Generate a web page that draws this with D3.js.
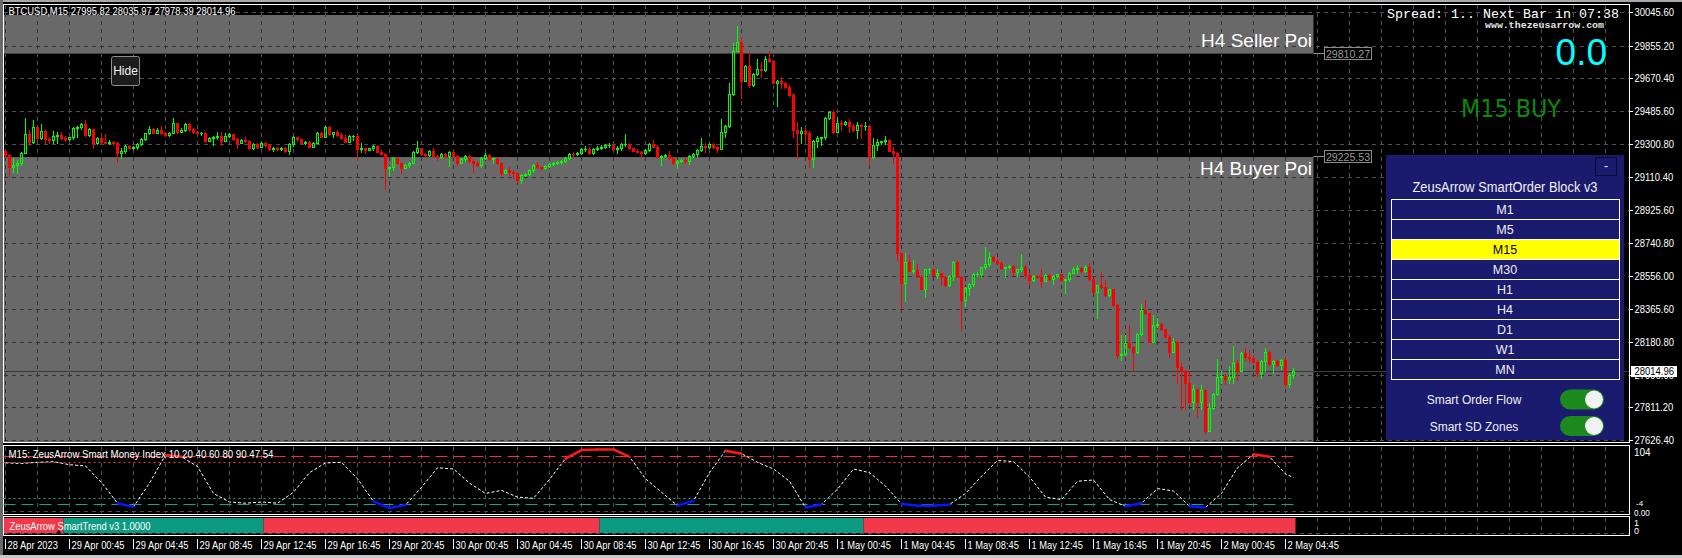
<!DOCTYPE html>
<html>
<head>
<meta charset="utf-8">
<script src="https://cdn.jsdelivr.net/npm/d3@7"></script>
<style>
  html, body { margin: 0; padding: 0; background: #000; }
  svg { display: block; font-family: "Liberation Sans", Arial, sans-serif; }
</style>
</head>
<body>
<div id="chart"></div>
<script>
// BTCUSD M15 chart with the ZeusArrow overlays (MT4 style)

// ---- data ----
const symbolHeader = 'BTCUSD,M15  27995.82 28035.97 27978.39 28014.96';
const firstOpen = 29262;

const closes = [
  29237, 29171, 29181, 29194, 29250, 29356, 29312, 29394, 29331, 29373,
  29326, 29322, 29345, 29352, 29335, 29326, 29337, 29392, 29397, 29412,
  29348, 29382, 29303, 29335, 29312, 29307, 29312, 29303, 29247, 29262,
  29288, 29275, 29281, 29299, 29326, 29360, 29382, 29363, 29378, 29360,
  29348, 29363, 29416, 29369, 29378, 29412, 29382, 29369, 29360, 29363,
  29318, 29331, 29341, 29345, 29318, 29345, 29354, 29326, 29307, 29322,
  29318, 29275, 29299, 29284, 29307, 29294, 29269, 29279, 29269, 29275,
  29262, 29297, 29337, 29326, 29307, 29312, 29284, 29307, 29360, 29341,
  29394, 29356, 29365, 29350, 29335, 29312, 29345, 29345, 29269, 29275,
  29265, 29275, 29288, 29256, 29243, 29162, 29168, 29218, 29190, 29162,
  29181, 29194, 29256, 29275, 29243, 29237, 29262, 29232, 29224, 29241,
  29232, 29256, 29232, 29194, 29213, 29232, 29203, 29194, 29181, 29218,
  29237, 29213, 29218, 29190, 29137, 29152, 29143, 29134, 29096, 29124,
  29130, 29152, 29181, 29167, 29162, 29175, 29186, 29194, 29199, 29205,
  29218, 29243, 29241, 29250, 29269, 29271, 29247, 29269, 29279, 29284,
  29292, 29295, 29269, 29278, 29299, 29301, 29275, 29261, 29256, 29246,
  29265, 29299, 29284, 29224, 29231, 29237, 29218, 29190, 29203, 29209,
  29205, 29231, 29243, 29265, 29288, 29280, 29299, 29280, 29273, 29367,
  29401, 29582, 29827, 29876, 29657, 29740, 29633, 29695, 29721, 29717,
  29778, 29768, 29646, 29657, 29646, 29619, 29576, 29378, 29363, 29373,
  29363, 29212, 29318, 29331, 29337, 29448, 29480, 29369, 29416, 29412,
  29425, 29401, 29378, 29407, 29401, 29404, 29228, 29293, 29312, 29314,
  29322, 29261, 29250, 28681, 28512, 28634, 28584, 28587, 28550, 28482,
  28591, 28593, 28559, 28568, 28550, 28503, 28553, 28634, 28550, 28418,
  28484, 28508, 28563, 28565, 28602, 28621, 28663, 28640, 28629, 28597,
  28602, 28610, 28578, 28591, 28606, 28559, 28531, 28553, 28546, 28527,
  28559, 28535, 28553, 28563, 28531, 28535, 28572, 28591, 28599, 28580,
  28602, 28535, 28463, 28501, 28489, 28444, 28478, 28389, 28105, 28113,
  28173, 28150, 28124, 28226, 28361, 28342, 28182, 28276, 28282, 28252,
  28211, 28126, 28179, 28037, 28019, 27951, 27843, 27913, 27843, 27909,
  27680, 27806, 27885, 27985, 27988, 27973, 27981, 28064, 28019, 28117,
  28094, 28088, 28069, 28004, 28075, 28126, 28056, 28073, 28051, 28079,
  27943, 27995.82, 28014.96
];

const highs = [
  29265, 29243, 29218, 29209, 29256, 29444, 29378, 29435, 29401, 29410,
  29378, 29337, 29375, 29369, 29369, 29345, 29341, 29397, 29401, 29420,
  29435, 29388, 29386, 29341, 29341, 29356, 29322, 29318, 29312, 29275,
  29294, 29292, 29288, 29307, 29331, 29363, 29401, 29388, 29388, 29401,
  29367, 29369, 29444, 29420, 29388, 29420, 29416, 29388, 29375, 29369,
  29367, 29337, 29345, 29369, 29369, 29360, 29360, 29356, 29331, 29326,
  29337, 29322, 29307, 29303, 29312, 29311, 29299, 29284, 29284, 29281,
  29284, 29303, 29345, 29341, 29329, 29318, 29316, 29311, 29367, 29369,
  29401, 29401, 29369, 29378, 29360, 29348, 29348, 29348, 29348, 29303,
  29279, 29279, 29294, 29292, 29265, 29250, 29175, 29224, 29222, 29194,
  29186, 29199, 29262, 29316, 29279, 29250, 29265, 29275, 29237, 29247,
  29250, 29262, 29260, 29235, 29218, 29237, 29235, 29213, 29205, 29224,
  29250, 29241, 29222, 29222, 29194, 29158, 29171, 29152, 29137, 29130,
  29137, 29156, 29186, 29199, 29171, 29181, 29190, 29199, 29205, 29209,
  29224, 29247, 29256, 29256, 29275, 29288, 29284, 29275, 29288, 29292,
  29297, 29307, 29295, 29288, 29303, 29356, 29303, 29278, 29269, 29261,
  29269, 29307, 29322, 29292, 29237, 29243, 29260, 29222, 29209, 29212,
  29228, 29235, 29246, 29271, 29331, 29303, 29307, 29303, 29288, 29439,
  29407, 29646, 29868, 29966, 29902, 29746, 29821, 29702, 29778, 29765,
  29797, 29827, 29774, 29661, 29676, 29650, 29633, 29586, 29425, 29393,
  29388, 29371, 29322, 29344, 29341, 29454, 29488, 29491, 29450, 29435,
  29431, 29440, 29410, 29425, 29410, 29425, 29405, 29331, 29326, 29318,
  29344, 29326, 29284, 29256, 28678, 28685, 28672, 28644, 28621, 28553,
  28595, 28597, 28595, 28591, 28572, 28553, 28559, 28640, 28638, 28553,
  28489, 28512, 28568, 28578, 28606, 28715, 28691, 28666, 28648, 28638,
  28606, 28614, 28614, 28595, 28678, 28614, 28563, 28557, 28557, 28591,
  28563, 28565, 28557, 28567, 28567, 28538, 28576, 28602, 28614, 28602,
  28616, 28625, 28538, 28504, 28578, 28531, 28482, 28482, 28395, 28220,
  28220, 28276, 28154, 28233, 28395, 28418, 28346, 28333, 28314, 28286,
  28252, 28218, 28201, 28184, 28060, 28022, 28013, 27938, 27917, 27938,
  27913, 27834, 27894, 28083, 28019, 28000, 28045, 28158, 28079, 28122,
  28145, 28135, 28107, 28079, 28079, 28149, 28132, 28079, 28079, 28085,
  28094, 28005, 28035.97
];

const lows = [
  29228, 29118, 29143, 29134, 29181, 29247, 29294, 29307, 29322, 29326,
  29303, 29307, 29303, 29307, 29329, 29318, 29322, 29329, 29341, 29386,
  29345, 29345, 29279, 29299, 29307, 29299, 29299, 29294, 29199, 29218,
  29250, 29269, 29269, 29271, 29294, 29322, 29356, 29360, 29360, 29354,
  29345, 29345, 29360, 29363, 29369, 29375, 29375, 29363, 29356, 29352,
  29312, 29318, 29294, 29328, 29294, 29322, 29341, 29322, 29275, 29303,
  29312, 29269, 29269, 29279, 29281, 29284, 29265, 29262, 29265, 29265,
  29256, 29241, 29288, 29318, 29303, 29299, 29281, 29284, 29303, 29337,
  29337, 29352, 29341, 29346, 29331, 29309, 29311, 29322, 29209, 29256,
  29247, 29265, 29265, 29252, 29239, 29043, 29118, 29152, 29186, 29134,
  29162, 29171, 29190, 29250, 29239, 29228, 29233, 29228, 29209, 29220,
  29228, 29175, 29228, 29181, 29190, 29205, 29199, 29143, 29177, 29171,
  29213, 29209, 29194, 29186, 29124, 29134, 29124, 29105, 29086, 29081,
  29120, 29122, 29143, 29164, 29152, 29158, 29171, 29181, 29186, 29184,
  29198, 29213, 29228, 29237, 29241, 29262, 29243, 29243, 29267, 29273,
  29278, 29282, 29265, 29246, 29265, 29290, 29271, 29258, 29252, 29228,
  29243, 29258, 29280, 29220, 29180, 29224, 29214, 29186, 29165, 29196,
  29194, 29184, 29224, 29233, 29260, 29256, 29275, 29277, 29256, 29269,
  29337, 29393, 29574, 29823, 29561, 29657, 29623, 29629, 29691, 29676,
  29714, 29765, 29642, 29514, 29614, 29616, 29572, 29341, 29218, 29303,
  29322, 29171, 29167, 29280, 29293, 29327, 29440, 29363, 29375, 29378,
  29408, 29369, 29375, 29331, 29331, 29378, 29180, 29218, 29265, 29299,
  29299, 29258, 29194, 28644, 28371, 28414, 28580, 28568, 28546, 28478,
  28437, 28572, 28555, 28540, 28503, 28499, 28499, 28531, 28546, 28248,
  28384, 28446, 28499, 28553, 28550, 28593, 28612, 28636, 28625, 28593,
  28550, 28599, 28559, 28553, 28580, 28540, 28503, 28523, 28542, 28489,
  28523, 28531, 28508, 28546, 28527, 28455, 28527, 28574, 28568, 28576,
  28576, 28531, 28459, 28314, 28486, 28440, 28440, 28386, 28088, 28079,
  28105, 28147, 28018, 28120, 28222, 28339, 28179, 28179, 28267, 28248,
  28207, 28094, 28128, 27951, 27800, 27800, 27834, 27800, 27755, 27800,
  27668, 27676, 27802, 27881, 27951, 27943, 27947, 27951, 27966, 28015,
  28079, 28069, 28066, 27985, 27979, 28019, 28053, 28007, 28047, 28026,
  27932, 27928, 27978.39
];

const priceTicks = [30045.60, 29855.20, 29670.40, 29485.60, 29300.80, 29110.40, 28925.60,
                    28740.80, 28556.00, 28365.60, 28180.80, 27996.00, 27811.20, 27626.40];
const lastPrice = 28014.96;

const sellerZone = [29810.27, 30028.6];
const buyerZone = [27500, 29225.53];
const zoneEndBar = 327;

const timeLabelBars = [0, 16, 32, 48, 64, 80, 96, 112, 128, 144, 160, 176, 192, 208, 224, 240, 256, 272, 288, 304, 320];
const timeLabels = ['28 Apr 2023', '29 Apr 00:45', '29 Apr 04:45', '29 Apr 08:45', '29 Apr 12:45', '29 Apr 16:45',
  '29 Apr 20:45', '30 Apr 00:45', '30 Apr 04:45', '30 Apr 08:45', '30 Apr 12:45', '30 Apr 16:45', '30 Apr 20:45',
  '1 May 00:45', '1 May 04:45', '1 May 08:45', '1 May 12:45', '1 May 16:45', '1 May 20:45', '2 May 00:45', '2 May 04:45'];

// smart money index, read every 4th bar
const smiBars = [0, 4, 8, 12, 16, 20, 24, 28, 32, 36, 40, 44, 48, 52, 56, 60, 64, 68, 72, 76,
  80, 84, 88, 92, 96, 100, 104, 108, 112, 116, 120, 124, 128, 132, 136, 140, 144, 148, 152, 156,
  160, 164, 168, 172, 176, 180, 184, 188, 192, 196, 200, 204, 208, 212, 216, 220, 224, 228, 232, 236,
  240, 244, 248, 252, 256, 260, 264, 268, 272, 276, 280, 284, 288, 292, 296, 300, 304, 308, 312, 316,
  320, 322];
const smiValues = [78, 77, 79, 80, 75, 73, 46, 12, 6, 45,
  91, 88, 72, 28, 14, 12, 14, 12, 30, 62,
  78, 79, 52, 15, 4, 9, 38, 70, 68, 45,
  28, 33, 22, 20, 51, 85, 99, 100, 100, 88,
  52, 30, 8, 16, 62, 98, 93, 79, 68, 48,
  5, 10, 35, 68, 62, 40, 11, 8, 8, 10,
  28, 56, 82, 80, 55, 22, 18, 48, 50, 18,
  7, 12, 36, 32, 7, 5, 28, 70, 92, 88,
  60, 54];
const smiLevels = [90, 80, 20, 10];
const smiHeader = 'M15: ZeusArrow Smart Money Index  10 20 40 60 80 90 47 54';

const trendStarts = [0, 15, 65, 149, 215];
const trendEnds = [14, 64, 148, 214, 322];
const trendDirs = ['down', 'up', 'down', 'up', 'down'];

const timeframes = ['M1', 'M5', 'M15', 'M30', 'H1', 'H4', 'D1', 'W1', 'MN'];
const activeTimeframe = 'M15';
const toggles = ['Smart Order Flow', 'Smart SD Zones'];

// ---- layout ----
const W = 1682, H = 558;
const main = { left: 4, right: 1629, top: 5, bottom: 442 };
const GREEN = '#00ff00', RED = '#ff0000', TEAL = '#0c9a82', TRED = '#f2394b';

const svg = d3.select('#chart').append('svg')
  .attr('width', W).attr('height', H);

svg.append('rect').attr('width', W).attr('height', H).attr('fill', '#000');
svg.append('rect').attr('width', W).attr('height', 2).attr('fill', '#a8a8a8');
svg.append('rect').attr('width', 3).attr('height', H).attr('fill', '#6a6a6a');
svg.append('rect').attr('y', 555).attr('width', W).attr('height', 3).attr('fill', '#c8c8c8');

const x = d3.scaleLinear().domain([0, 322]).range([5.5, 1293.5]);
const y = d3.scaleLinear().domain([27626.4, 30045.6]).range([440, 12]);
const ySmi = d3.scaleLinear().domain([-4, 104]).range([513, 447]);
const yTrend = d3.scaleLinear().domain([0, 1]).range([533, 518]);

function squeeze(sel, k) {
  sel.each(function () {
    const len = this.getComputedTextLength();
    d3.select(this).attr('textLength', len * k).attr('lengthAdjust', 'spacingAndGlyphs');
  });
}
function fit(sel, w) {
  sel.attr('textLength', w).attr('lengthAdjust', 'spacingAndGlyphs');
}

svg.append('clipPath').attr('id', 'mainClip').append('rect')
  .attr('x', main.left).attr('y', main.top)
  .attr('width', main.right - main.left).attr('height', main.bottom - main.top);

const plot = svg.append('g').attr('clip-path', 'url(#mainClip)');

// supply / demand zones
const zones = [sellerZone, buyerZone];
plot.selectAll('.zone').data(zones).enter().append('rect')
  .attr('x', main.left)
  .attr('y', d => y(d[1]))
  .attr('width', x(zoneEndBar) - main.left)
  .attr('height', d => y(d[0]) - y(d[1]))
  .attr('fill', '#696969');

// grid
const gridBars = d3.range(0, 420, 8);
function drawGrid(g, color) {
  g.selectAll('.vg').data(gridBars).enter().append('line')
    .attr('x1', d => Math.floor(x(d)) + 0.5).attr('x2', d => Math.floor(x(d)) + 0.5)
    .attr('y1', main.top).attr('y2', main.bottom)
    .attr('stroke', color).attr('stroke-dasharray', '4,4');
  g.selectAll('.hg').data(priceTicks).enter().append('line')
    .attr('x1', main.left).attr('x2', main.right)
    .attr('y1', d => Math.round(y(d)) + 0.5).attr('y2', d => Math.round(y(d)) + 0.5)
    .attr('stroke', color).attr('stroke-dasharray', '4,4');
}
drawGrid(plot.append('g'), '#4e4e4e');
svg.append('clipPath').attr('id', 'zoneClip').selectAll('rect').data(zones).enter().append('rect')
  .attr('x', main.left).attr('y', d => Math.max(main.top, y(d[1])))
  .attr('width', x(zoneEndBar) - main.left)
  .attr('height', d => Math.min(main.bottom, y(d[0])) - Math.max(main.top, y(d[1])));
drawGrid(plot.append('g').attr('clip-path', 'url(#zoneClip)'), '#333');

// bid line
plot.append('line')
  .attr('x1', main.left).attr('x2', main.right)
  .attr('y1', Math.round(y(lastPrice)) + 0.5).attr('y2', Math.round(y(lastPrice)) + 0.5)
  .attr('stroke', '#3a3a3a');

// candles
const candles = closes.map((c, i) => ({
  i, o: i === 0 ? firstOpen : closes[i - 1], c, h: highs[i], l: lows[i]
}));
const cg = plot.append('g').attr('shape-rendering', 'crispEdges');
candles.forEach(d => {
  const cx = x(d.i);
  const top = Math.round(y(Math.max(d.o, d.c)));
  const bot = Math.round(y(Math.min(d.o, d.c)));
  const hi = Math.round(y(Math.max(d.h, d.o, d.c)));
  const lo = Math.round(y(Math.min(d.l, d.o, d.c)));
  const bull = d.c >= d.o;
  const col = bull ? GREEN : RED;
  if (hi < top) cg.append('line').attr('x1', cx).attr('x2', cx).attr('y1', hi).attr('y2', top).attr('stroke', col);
  if (lo > bot) cg.append('line').attr('x1', cx).attr('x2', cx).attr('y1', bot + 1).attr('y2', lo + 1).attr('stroke', col);
  if (!bull || bot - top < 2) {
    cg.append('rect').attr('x', cx - 1.5).attr('y', top).attr('width', 3)
      .attr('height', bot - top + 1).attr('fill', col);
  } else {
    cg.append('rect').attr('x', cx - 1).attr('y', top + 0.5).attr('width', 2)
      .attr('height', bot - top).attr('fill', 'none').attr('stroke', col);
  }
});

// zone captions
plot.append('text').attr('x', 1312).attr('y', 47).attr('text-anchor', 'end')
  .attr('font-size', 19).attr('fill', '#fff').text('H4 Seller Poi');
plot.append('text').attr('x', 1312).attr('y', 175).attr('text-anchor', 'end')
  .attr('font-size', 19).attr('fill', '#fff').text('H4 Buyer Poi');

[sellerZone[0], buyerZone[1]].forEach(p => {
  const yy = Math.round(y(p)) - 0.5;
  plot.append('line').attr('x1', x(zoneEndBar)).attr('x2', 1324).attr('y1', yy).attr('y2', yy)
    .attr('stroke', '#8a8a8a');
  plot.append('rect').attr('x', 1324.5).attr('y', yy - 6).attr('width', 47).attr('height', 12)
    .attr('fill', '#000').attr('stroke', '#8a8a8a');
  plot.append('text').attr('x', 1348).attr('y', yy + 4).attr('text-anchor', 'middle')
    .attr('font-size', 10.5).attr('fill', '#9a9a9a').text(d3.format('.2f')(p))
    .call(s => fit(s, 44));
});

// header
svg.append('text').attr('x', 8.5).attr('y', 15).attr('font-size', 10.5).attr('fill', '#fff')
  .text(symbolHeader).call(s => fit(s, 227));

// Hide button
svg.append('rect').attr('x', 111.5).attr('y', 56.5).attr('width', 28).attr('height', 29).attr('rx', 2)
  .attr('fill', '#1c1c1c').attr('stroke', '#8c8c8c');
svg.append('text').attr('x', 125.5).attr('y', 75).attr('text-anchor', 'middle')
  .attr('font-size', 12).attr('fill', '#f4f4f4').text('Hide');

// top-right info
svg.append('text').attr('x', 1387).attr('y', 18).attr('font-family', '"Liberation Mono", monospace')
  .attr('font-size', 13).attr('fill', '#fff').text('Spread: 1.. Next Bar in 07:38').call(s => fit(s, 232));
svg.append('text').attr('x', 1485).attr('y', 28).attr('font-family', '"Liberation Mono", monospace')
  .attr('font-size', 9.5).attr('font-weight', 'bold').attr('fill', '#e6e6e6')
  .text('www.thezeusarrow.com').call(s => fit(s, 119));
svg.append('text').attr('x', 1607).attr('y', 65).attr('text-anchor', 'end')
  .attr('font-size', 37).attr('fill', '#00ffff').text('0.0');
svg.append('text').attr('x', 1461).attr('y', 117).attr('font-family', '"DejaVu Sans", sans-serif')
  .attr('font-size', 24).attr('fill', '#0a8a0a').text('M15 BUY').call(s => fit(s, 100));

// SmartOrder Block panel
const panel = svg.append('g');
panel.append('rect').attr('x', 1386).attr('y', 155).attr('width', 238).attr('height', 285).attr('fill', '#1a1a6e');
panel.append('rect').attr('x', 1595.5).attr('y', 157.5).attr('width', 21).attr('height', 18)
  .attr('fill', '#1a1a6e').attr('stroke', '#0b0b30');
panel.append('text').attr('x', 1606).attr('y', 170).attr('text-anchor', 'middle')
  .attr('font-size', 12).attr('fill', '#fff').text('-');
panel.append('text').attr('x', 1505).attr('y', 191.5).attr('text-anchor', 'middle')
  .attr('font-size', 14).attr('fill', '#f0f0f0').text('ZeusArrow SmartOrder Block v3').call(s => fit(s, 185));

const tfRow = d3.scaleBand().domain(timeframes).range([199.5, 379.5]);
panel.selectAll('.tf').data(timeframes).enter().append('rect')
  .attr('x', 1391.5).attr('y', d => tfRow(d)).attr('width', 228).attr('height', tfRow.bandwidth())
  .attr('fill', d => d === activeTimeframe ? '#ffff00' : '#1a1a6e').attr('stroke', '#fff');
panel.selectAll('.tft').data(timeframes).enter().append('text')
  .attr('x', 1505).attr('y', d => tfRow(d) + tfRow.bandwidth() / 2 + 4.5).attr('text-anchor', 'middle')
  .attr('font-size', 12.5).attr('fill', d => d === activeTimeframe ? '#000' : '#f0f0f0').text(d => d);

toggles.forEach((t, k) => {
  const cy = 399.5 + k * 26.5;
  panel.append('text').attr('x', 1474).attr('y', cy + 4.5).attr('text-anchor', 'middle')
    .attr('font-size', 12).attr('fill', '#f0f0f0').text(t);
  panel.append('rect').attr('x', 1560).attr('y', cy - 10).attr('width', 44).attr('height', 20).attr('rx', 10)
    .attr('fill', '#1d8a1d');
  panel.append('circle').attr('cx', 1594).attr('cy', cy).attr('r', 9).attr('fill', '#f2f2f2');
});

// main frame
svg.append('rect').attr('x', 3.5).attr('y', 4.5).attr('width', 1626).attr('height', 438)
  .attr('fill', 'none').attr('stroke', '#fff');

// price axis
const axisFont = 11;
svg.selectAll('.ptick').data(priceTicks).enter().append('line')
  .attr('x1', 1630).attr('x2', 1633).attr('y1', d => Math.round(y(d)) + 0.5).attr('y2', d => Math.round(y(d)) + 0.5)
  .attr('stroke', '#fff');
svg.selectAll('.plab').data(priceTicks).enter().append('text')
  .attr('x', 1634.5).attr('y', d => y(d) + 4).attr('font-size', axisFont).attr('fill', '#fff')
  .text(d => d3.format('.2f')(d)).call(s => squeeze(s, 0.86));
svg.append('rect').attr('x', 1631).attr('y', Math.round(y(lastPrice)) - 5).attr('width', 46).attr('height', 11)
  .attr('fill', '#fff');
svg.append('text').attr('x', 1634.5).attr('y', y(lastPrice) + 4).attr('font-size', axisFont).attr('fill', '#000')
  .text(d3.format('.2f')(lastPrice)).call(s => squeeze(s, 0.86));

// ---- Smart Money Index window ----
const smi = svg.append('g');
smi.append('rect').attr('x', 3.5).attr('y', 445.5).attr('width', 1626).attr('height', 69)
  .attr('fill', 'none').attr('stroke', '#fff');
smi.selectAll('.vg').data(gridBars.filter(b => x(b) < 1628)).enter().append('line')
  .attr('x1', d => Math.floor(x(d)) + 0.5).attr('x2', d => Math.floor(x(d)) + 0.5)
  .attr('y1', 447).attr('y2', 513).attr('stroke', '#4e4e4e').attr('stroke-dasharray', '4,4');
smi.append('line').attr('x1', 4).attr('x2', 1629).attr('y1', 511.5).attr('y2', 511.5)
  .attr('stroke', '#4e4e4e').attr('stroke-dasharray', '4,4');

const levelStyle = [
  { color: '#ff2a2a', dash: '12,6' },
  { color: '#ff2a2a', dash: '2,3' },
  { color: '#1aa08c', dash: '2,3' },
  { color: '#1aa08c', dash: '12,6' }
];
smiLevels.forEach((v, k) => {
  smi.append('line').attr('x1', x(0) - 2).attr('x2', x(322))
    .attr('y1', Math.round(ySmi(v)) + 0.5).attr('y2', Math.round(ySmi(v)) + 0.5)
    .attr('stroke', levelStyle[k].color).attr('stroke-dasharray', levelStyle[k].dash);
});

const smiPts = smiBars.map((b, k) => [x(b), ySmi(smiValues[k])]);
smi.append('path').attr('d', d3.line()(smiPts)).attr('fill', 'none')
  .attr('stroke', '#fff').attr('stroke-dasharray', '3,2');
for (let k = 0; k < smiPts.length - 1; k++) {
  const avg = (smiValues[k] + smiValues[k + 1]) / 2;
  let col = null;
  if (avg >= 88) col = '#ff1a1a';
  else if (avg <= 12) col = '#0a14ff';
  if (col) {
    smi.append('line').attr('x1', smiPts[k][0]).attr('y1', smiPts[k][1])
      .attr('x2', smiPts[k + 1][0]).attr('y2', smiPts[k + 1][1])
      .attr('stroke', col).attr('stroke-width', 2.5).attr('stroke-linecap', 'round');
  }
}
smi.append('text').attr('x', 8.5).attr('y', 458).attr('font-size', 10).attr('fill', '#fff')
  .text(smiHeader).call(s => fit(s, 265));
svg.append('text').attr('x', 1634).attr('y', 456).attr('font-size', 10).attr('fill', '#fff').text('104');
svg.append('text').attr('x', 1636).attr('y', 506).attr('font-size', 8).attr('fill', '#fff').text('-4');
svg.append('text').attr('x', 1634).attr('y', 516).attr('font-size', 9).attr('fill', '#fff')
  .text('0.00').call(s => squeeze(s, 0.9));

// ---- SmartTrend window ----
const tr = svg.append('g');
tr.selectAll('.vg').data(gridBars.filter(b => x(b) < 1628)).enter().append('line')
  .attr('x1', d => Math.floor(x(d)) + 0.5).attr('x2', d => Math.floor(x(d)) + 0.5)
  .attr('y1', 518).attr('y2', 535).attr('stroke', '#4e4e4e').attr('stroke-dasharray', '4,4');
tr.append('line').attr('x1', 4).attr('x2', 1629).attr('y1', 533.5).attr('y2', 533.5)
  .attr('stroke', '#4e4e4e').attr('stroke-dasharray', '4,4');
tr.selectAll('.tb').data(trendStarts).enter().append('rect')
  .attr('x', d => x(d) - 2)
  .attr('y', yTrend(1))
  .attr('width', (d, k) => x(trendEnds[k]) - x(d) + 4)
  .attr('height', yTrend(0) - yTrend(1))
  .attr('fill', (d, k) => trendDirs[k] === 'up' ? TEAL : TRED);
tr.append('rect').attr('x', 3.5).attr('y', 516.5).attr('width', 1626).attr('height', 19)
  .attr('fill', 'none').attr('stroke', '#fff');
tr.append('text').attr('x', 9.5).attr('y', 530).attr('font-size', 10.5).attr('fill', '#fff')
  .text('ZeusArrow SmartTrend v3 1.0000').call(s => fit(s, 141));
tr.append('path').attr('d', 'M56,533.5 L58.7,529.5 L61.5,533.5 Z').attr('fill', '#1a1a1a');
svg.append('text').attr('x', 1634).attr('y', 526).attr('font-size', 9).attr('fill', '#fff').text('1');
svg.append('text').attr('x', 1634).attr('y', 534).attr('font-size', 9).attr('fill', '#fff').text('0');

// ---- time axis ----
const ta = svg.append('g');
ta.selectAll('line').data(timeLabelBars).enter().append('line')
  .attr('x1', d => Math.floor(x(d)) + 0.5).attr('x2', d => Math.floor(x(d)) + 0.5)
  .attr('y1', 539).attr('y2', 549).attr('stroke', '#fff');
ta.selectAll('text').data(timeLabelBars).enter().append('text')
  .attr('x', d => Math.floor(x(d)) + 2.5).attr('y', 548.5)
  .attr('font-size', axisFont).attr('fill', '#fff')
  .text((d, k) => timeLabels[k]).call(s => squeeze(s, 0.85));
</script>
</body>
</html>
